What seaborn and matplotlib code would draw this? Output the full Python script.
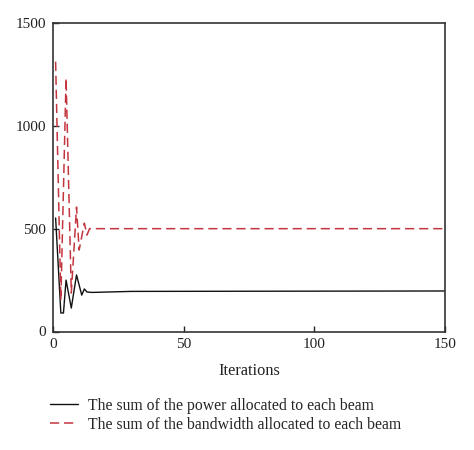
import matplotlib
matplotlib.use("Agg")
import matplotlib.pyplot as plt
import seaborn as sns
import pandas as pd

# Data
power_iter = [1, 3, 4, 5, 7, 9, 11, 12, 13, 15, 30, 150]
power_sum = [552, 90, 90, 250, 114, 275, 177, 207, 192, 190, 195, 197]
bw_iter = [1, 3, 5, 7, 9, 10, 12, 13, 14, 150]
bw_sum = [1312, 153, 1232, 187, 605, 396, 527, 469, 500, 500]

label_power = "The sum of the power allocated to each beam"
label_bw = "The sum of the bandwidth allocated to each beam"

sns.set_theme(style="white")
plt.rcParams["font.family"] = ["Liberation Serif", "DejaVu Serif"]

fig = plt.figure(figsize=(4.74, 4.5), dpi=100)
ax = fig.add_axes([53 / 474, 1 - 331.5 / 450, 392 / 474, 308.5 / 450])

df_p = pd.DataFrame({"Iterations": power_iter, "value": power_sum})
df_b = pd.DataFrame({"Iterations": bw_iter, "value": bw_sum})

sns.lineplot(data=df_p, x="Iterations", y="value", ax=ax, color="#111111",
             linewidth=1.0, label=label_power)
sns.lineplot(data=df_b, x="Iterations", y="value", ax=ax, color="#c4363f",
             linewidth=1.1, linestyle=(0, (6, 3.2)), label=label_bw)

ax.set_xlim(0, 150)
ax.set_ylim(0, 1500)
ax.set_xticks([0, 50, 100, 150])
ax.set_yticks([0, 500, 1000, 1500])
ax.set_xlabel("Iterations", fontsize=11.8, color="#222222", labelpad=8)
ax.set_ylabel("")
ax.tick_params(axis="both", direction="in", length=4, width=1.0,
               labelsize=11, colors="#222222", left=True, bottom=True, pad=5)
for s in ax.spines.values():
    s.set_color("#333333")
    s.set_linewidth(1.2)

handles, labels = ax.get_legend_handles_labels()
ax.get_legend().remove()
fig.legend(handles, labels, loc="upper left", bbox_to_anchor=(0.092, 0.13),
           frameon=False, fontsize=11.3, handlelength=1.8, handletextpad=0.65,
           labelspacing=0.2, borderaxespad=0)

fig.savefig("out.png", dpi=100)
